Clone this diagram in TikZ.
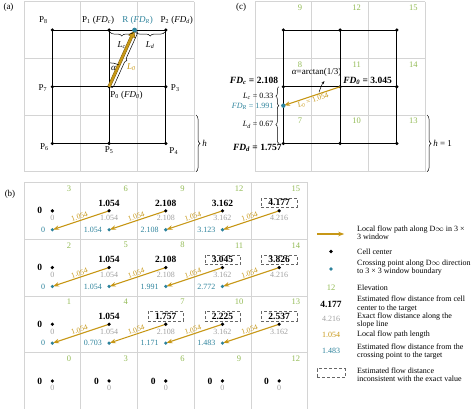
\documentclass[tikz,border=0pt]{standalone}
\usepackage{fontspec}
\setmainfont{Liberation Serif}
\usetikzlibrary{arrows.meta,decorations.pathreplacing,calc}
\definecolor{elevc}{RGB}{146,186,84}
\definecolor{flowc}{RGB}{199,151,22}
\definecolor{crossc}{RGB}{44,130,155}
\definecolor{exactc}{RGB}{160,160,160}
\definecolor{gridc}{RGB}{212,212,212}
\newcommand{\cw}{56.7}
\newcommand{\vfd}[1]{\textit{FD}\textsubscript{\textit{#1}}}
\newcommand{\vlen}[1]{\textit{L}\textsubscript{\textit{#1}}}
\newcommand{\drawgridgray}[4]{
    \foreach \x in {0,...,#3}{
    \draw[gridline] (#1+\x*\cw,#2)--(#1+\x*\cw,#2+#4*\cw);
    }
    \foreach \y in {0,...,#4}{
      \draw[gridline] (#1,#2+\y*\cw)--(#1+#3*\cw,#2+\y*\cw);
    }
}
\newcommand{\drawwindow}[3]{
    \foreach \n/\ci/\cj in {8/0/0,1/1/0,2/2/0,7/0/1,0/1/1,3/2/1,6/0/2,5/1/2,4/2/2}{
      \coordinate (#3\n) at (#1+\ci*\cw+.5*\cw,#2+\cj*\cw+.5*\cw);
    }
    \draw[window] (#38)--(#32)--(#34)--(#36)--cycle (#37)--(#33) (#31)--(#35);
    \foreach \n in {0,...,8}{
      \fill (#3\n) circle (1.8);
    }
}
\newcommand{\elevations}[6]{
    \foreach \ci in {1,...,#3}{
    \foreach \cj in {1,...,#4}{
      \pgfmathtruncatemacro{\ev}{#5+3*(\ci-1)-(\cj-1)}
      \node[elevnum] (#6\ci\cj) at (#1+\ci*\cw-11.7,#2+\cj*\cw-\cw+6) {\ev};
    }}
}
\newcommand{\fdcell}[4]{\fill (b#1) circle (1.8);
    \node[fdnum,above=3pt,#4] (fd#1) at (b#1) {#2};
    \node[exactnum,below=3.5pt] (ex#1) at (b#1) {#3};}
\newcommand{\fdzero}[1]{\fill (b#1) circle (1.8);
    \node[fdnum,left=3pt] (fd#1) at (b#1) {0};
    \node[exactnum,below=3.5pt] (ex#1) at (b#1) {0};}
\newcommand{\crossing}[2]{\fill[crossc] (x#1) circle (1.8);
    \node[crossnum,left=6pt] (cr#1) at (x#1) {#2};}
\newcommand{\flowpath}[2]{\draw[flowpath] (b#1) -- node[flowlen] (fl#1) {1.054} (x#2);}

\begin{document}
\begin{tikzpicture}[x=1pt,y=-1pt,
    gridline/.style={draw=gridc,line width=0.6pt},
    window/.style={line width=1pt},
    ptlabel/.style={font=\fontsize{9}{10}\selectfont,inner sep=0pt},
    fdnum/.style={font=\fontsize{9.5}{10}\selectfont\bfseries,inner xsep=7pt,inner ysep=1.5pt},
    boxed/.style={draw=black!60,densely dashed,line width=0.5pt},
    exactnum/.style={text=exactc,font=\fontsize{8}{9}\selectfont,inner sep=1pt},
    crossnum/.style={text=crossc,font=\fontsize{8}{9}\selectfont,inner sep=1pt},
    flowlen/.style={text=flowc,font=\fontsize{7.5}{8}\selectfont,pos=0.5,rotate=18.43,anchor=south,inner sep=1pt},
    elevnum/.style={text=elevc,font=\fontsize{8.5}{9}\selectfont,inner sep=0pt},
    flowpath/.style={flowc,line width=1.1pt,-{Stealth[length=6pt,width=4.5pt]},shorten >=0.8pt},
    flowthick/.style={flowc,line width=2.4pt,-{Triangle[length=6pt,width=6pt]},shorten >=1pt,
      preaction={draw=flowc!55!black,line width=3.2pt,-{Triangle[length=6.8pt,width=7pt]},shorten >=0.4pt}},
    lbrace/.style={decorate,line width=0.5pt},
    legtext/.style={anchor=west,align=left,inner sep=0pt,font=\fontsize{8}{8.3}\selectfont}]
\useasboundingbox (0,0) rectangle (474,409);

% (a) 3 x 3 window
\node[ptlabel] (pa) at (8.5,7.5) {(a)};
\drawgridgray{24}{1.7}{3}{3}
\drawwindow{24}{1.7}{P}
\coordinate (R) at ($(P1)!0.45!(P2)$);
\draw[flowthick] (P0) -- (R);
\fill[crossc] (R) circle (2.4);
\draw[line width=0.5pt] ($(P0)+(0,-24)$) arc[start angle=-90,end angle=-66,radius=24];
\node[ptlabel] (alpha) at (113.5,68.5) {\textit{α}};
\draw[lbrace,decoration={brace,mirror,amplitude=3pt,raise=2.5pt}] (P0) -- (R);
\node[ptlabel,text=flowc] (l0) at ($(P0)!0.4!(R)+(12,3)$) {\vlen{0}};
\draw[lbrace,decoration={brace,mirror,amplitude=4pt}] ($(P1)+(1,2)$) -- node[ptlabel,below=9pt] (lc) {\vlen{c}} ($(R)+(-1,2)$);
\draw[lbrace,decoration={brace,mirror,amplitude=4pt}] ($(R)+(1,2)$) -- node[ptlabel,below=9pt] (ld) {\vlen{d}} ($(P2)+(-1,2)$);
\draw[lbrace,decoration={brace,amplitude=4pt}] (196,115.1) -- node[ptlabel,right=6pt] (ha) {\textit{h}} (196,171.8);
\node[ptlabel] (p8) at ($(P8)+(-9,-10)$) {P\textsubscript{8}};
\node[ptlabel] (p1) at ($(P1)+(-11,-10)$) {P\textsubscript{1} (\vfd{c})};
\node[ptlabel,text=crossc] (pr) at ($(R)+(3,-10)$) {R (\vfd{R})};
\node[ptlabel] (p2) at ($(P2)+(11,-10)$) {P\textsubscript{2} (\vfd{d})};
\node[ptlabel] (p7) at ($(P7)+(-9.5,1.5)$) {P\textsubscript{7}};
\node[ptlabel] (p3) at ($(P3)+(9.5,1.5)$) {P\textsubscript{3}};
\node[ptlabel] (p0) at ($(P0)+(17.5,8.5)$) {P\textsubscript{0} (\vfd{0})};
\node[ptlabel] (p6) at ($(P6)+(-8,4)$) {P\textsubscript{6}};
\node[ptlabel] (p5) at ($(P5)+(0,7)$) {P\textsubscript{5}};
\node[ptlabel] (p4) at ($(P4)+(8,8)$) {P\textsubscript{4}};

% (c) worked example
\node[ptlabel] (pc) at (241,7.5) {(c)};
\drawgridgray{255}{1.7}{3}{3}
\elevations{255}{1.7}{3}{3}{9}{ec}
\drawwindow{255}{1.7}{c}
\coordinate (X) at ($(c7)!1/3!(c6)$);
\draw[flowpath] (c0) -- node[flowlen,anchor=north] (lc0) {\vlen{0} = 1.054} (X);
\fill[crossc] (X) circle (2.2);
\draw[line width=0.5pt,-{Stealth[length=3pt,width=2.5pt]}] ($(c0)+(-21,5.5)$) .. controls ($(c0)+(-19.5,1)$) and ($(c0)+(-18,-3)$) .. ($(c0)+(-15.5,-5.5)$);
\node[ptlabel] (ang) at ($(c0)+(-23.5,-14)$) {\textit{α}=arctan(1/3)};
\node[ptlabel,anchor=east,font=\fontsize{9.5}{10}\selectfont\bfseries] (fdc) at ($(c7)+(-5,-6)$) {\vfd{c} = 2.108};
\node[ptlabel,anchor=west,font=\fontsize{9.5}{10}\selectfont\bfseries] (fd0) at ($(c0)+(3,-6)$) {\vfd{0} = 3.045};
\node[ptlabel,anchor=east,font=\fontsize{9.5}{10}\selectfont\bfseries] (fdd) at ($(c6)+(-1.5,4.5)$) {\vfd{d} = 1.757};
\draw[lbrace,decoration={brace,amplitude=3pt}] ($(X)+(-4.5,0)$) -- ($(c7)+(-4.5,0)$);
\draw[lbrace,decoration={brace,amplitude=3pt}] ($(c6)+(-4.5,0)$) -- ($(X)+(-4.5,0)$);
\node[ptlabel,anchor=east,font=\fontsize{8}{9}\selectfont] (lcv) at (273.5,96.7) {\vlen{c} = 0.33};
\node[ptlabel,anchor=east,font=\fontsize{8}{9}\selectfont,text=crossc] (fdr) at (273.5,106) {\vfd{R} = 1.991};
\node[ptlabel,anchor=east,font=\fontsize{8}{9}\selectfont] (ldv) at (273.5,125) {\vlen{d} = 0.67};
\draw[lbrace,decoration={brace,amplitude=4pt}] (427,115.1) -- node[ptlabel,right=6pt] (hc) {\textit{h} = 1} (427,171.8);

% (b) flow distance over the slope
\node[ptlabel] (pb) at (10,194) {(b)};
\drawgridgray{24}{182.5}{5}{4}
\elevations{24}{182.5}{5}{4}{3}{eb}
\foreach \ci in {0,...,4}{
  \foreach \cj in {0,...,3}{
    \coordinate (b\ci\cj) at (24+\ci*\cw+.5*\cw,182.5+\cj*\cw+.5*\cw);
    \coordinate (x\ci\cj) at ($(b\ci\cj)+(0,18.9)$);
  }
}
\flowpath{10}{00}\flowpath{20}{10}\flowpath{30}{20}\flowpath{40}{30}
\flowpath{11}{01}\flowpath{21}{11}\flowpath{31}{21}\flowpath{41}{31}
\flowpath{12}{02}\flowpath{22}{12}\flowpath{32}{22}\flowpath{42}{32}
\fdzero{00}\fdcell{10}{1.054}{1.054}{}\fdcell{20}{2.108}{2.108}{}\fdcell{30}{3.162}{3.162}{}\fdcell{40}{4.177}{4.216}{boxed}
\fdzero{01}\fdcell{11}{1.054}{1.054}{}\fdcell{21}{2.108}{2.108}{}\fdcell{31}{3.045}{3.162}{boxed}\fdcell{41}{3.826}{4.216}{boxed}
\fdzero{02}\fdcell{12}{1.054}{1.054}{}\fdcell{22}{1.757}{2.108}{boxed}\fdcell{32}{2.225}{3.162}{boxed}\fdcell{42}{2.537}{3.162}{boxed}
\fdzero{03}\fdzero{13}\fdzero{23}\fdzero{33}\fdzero{43}
\crossing{00}{0}\crossing{10}{1.054}\crossing{20}{2.108}\crossing{30}{3.123}
\crossing{01}{0}\crossing{11}{1.054}\crossing{21}{1.991}\crossing{31}{2.772}
\crossing{02}{0}\crossing{12}{0.703}\crossing{22}{1.171}\crossing{32}{1.483}

% legend
\coordinate (la) at (317,234);
\coordinate (lb) at (345,234);
\draw[flowpath] (la) -- (lb);
\node[legtext] (t1) at (357,233) {Local flow path along D$\infty$ in 3 ×\\3 window};
\fill (331,251.5) circle (1.8);
\node[legtext] (t2) at (357,251.5) {Cell center};
\fill[crossc] (331,269) circle (1.8);
\node[legtext] (t3) at (357,267.5) {Crossing point along D$\infty$ direction\\to 3 × 3 window boundary};
\node[elevnum] (s4) at (331,287.5) {12};
\node[legtext] (t4) at (357,287.5) {Elevation};
\node[fdnum,inner xsep=0pt] (s5) at (331,304) {4.177};
\node[legtext] (t5) at (357,304) {Estimated flow distance from cell\\center to the target};
\node[exactnum] (s6) at (331,318.5) {4.216};
\node[legtext] (t6) at (357,320.5) {Exact flow distance along the\\slope line};
\node[exactnum,text=flowc] (s7) at (331,334.5) {1.054};
\node[legtext] (t7) at (357,335) {Local flow path length};
\node[crossnum] (s8) at (331,350.5) {1.483};
\node[legtext] (t8) at (357,351.5) {Estimated flow distance from the\\crossing point to the target};
\node[boxed,minimum width=28pt,minimum height=9pt] (s9) at (331,373) {};
\node[legtext] (t9) at (357,375) {Estimated flow distance\\inconsistent with the exact value};
\end{tikzpicture}
\end{document}
